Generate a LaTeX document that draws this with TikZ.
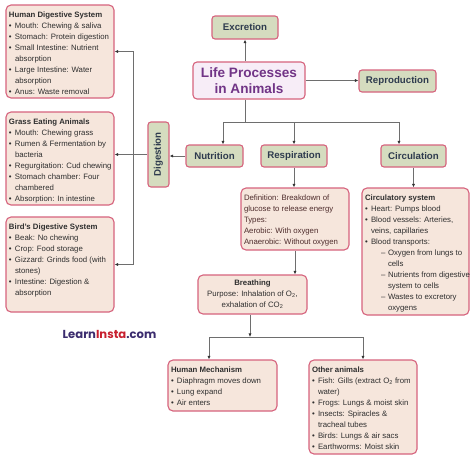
\documentclass[tikz,border=0pt]{standalone}
\usepackage{fontspec}
\setmainfont{Liberation Sans}
\newfontfamily\logofont{Poppins}
\usetikzlibrary{arrows.meta}

\definecolor{edgepink}{HTML}{D6637D}
\definecolor{notefill}{HTML}{F6E6DC}
\definecolor{topicfill}{HTML}{D5DCBF}
\definecolor{topictext}{HTML}{2E3B4E}
\definecolor{mainfill}{HTML}{F7EDF7}
\definecolor{maintext}{HTML}{713486}
\definecolor{wirecol}{HTML}{6E6E6E}
\definecolor{logoblue}{HTML}{3B2C6E}
\definecolor{logored}{HTML}{C8202F}
\definecolor{bodytext}{HTML}{2F2F2F}
\definecolor{deftext}{HTML}{4E2C2C}

\tikzset{
	topic/.style={draw=edgepink, line width=1.1pt, fill=topicfill, rounded corners=3pt, text=topictext, font=\fontsize{9.7}{11}\selectfont\bfseries, inner sep=2pt},
	mainbox/.style={draw=edgepink, line width=1.1pt, fill=mainfill, rounded corners=4pt, text=maintext, font=\fontsize{13.6}{16}\selectfont\bfseries, align=center},
	note/.style={draw=edgepink, line width=1.1pt, fill=notefill, rounded corners=5pt, text=bodytext, font=\fontsize{7.8}{11}\selectfont, inner xsep=3pt, inner ysep=3pt},
	link/.style={draw=wirecol, line width=0.8pt},
	conn/.style={link, -{Latex[length=3.6pt,width=3.2pt,color=black!80]}}
}

\newcommand{\ttl}[1]{\textbf{\rule{0pt}{9pt}#1}\par}
\newcommand{\bul}[1]{\hangindent=6pt\hangafter=1\noindent\makebox[6pt][l]{\textbullet}#1\par}
\newcommand{\dsh}[1]{\hangindent=23pt\hangafter=1\noindent\hspace*{16pt}\makebox[7pt][l]{--}#1\par}
% box of fixed size; lines are broken by hand only
\newcommand{\notetext}[3]{\makebox[#1][l]{\parbox[c][#2][t]{\dimexpr#1+40pt\relax}{\raggedright #3}}}

\begin{document}
\begin{tikzpicture}[x=1pt, y=-1pt]
		%%%%% START %%%%%
		\fill[white] (0,0) rectangle (474,459);
		\useasboundingbox (0,0) rectangle (474,459);

		% centre and the five topics
		\node[mainbox, minimum width=112pt, minimum height=37pt] (life) at (249, 80.5) {Life Processes\\in Animals};
		\node[topic, minimum width=66pt, minimum height=23pt] (excr) at (245, 27.5) {Excretion};
		\node[topic, minimum width=77pt, minimum height=22pt] (repro) at (397.5, 81) {Reproduction};
		\node[topic, minimum width=57pt, minimum height=22pt] (nutr) at (214.5, 156) {Nutrition};
		\node[topic, minimum width=66pt, minimum height=22pt] (resp) at (294, 156) {Respiration};
		\node[topic, minimum width=65pt, minimum height=22pt] (circ) at (413.5, 156) {Circulation};
		\node[topic, rotate=90, minimum width=65pt, minimum height=21pt] (dig) at (158.5, 154.5) {Digestion};

		% digestion notes
		\node[note] (hds) at (60, 51.5) {\notetext{102pt}{87pt}{%
			\ttl{Human Digestive System}
			\bul{Mouth: Chewing \& saliva}
			\bul{Stomach: Protein digestion}
			\bul{Small Intestine: Nutrient\newline absorption}
			\bul{Large Intestine: Water\newline absorption}
			\bul{Anus: Waste removal}}};
		\node[note] (grass) at (60, 158.5) {\notetext{102pt}{87pt}{%
			\ttl{Grass Eating Animals}
			\bul{Mouth: Chewing grass}
			\bul{Rumen \& Fermentation by\newline bacteria}
			\bul{Regurgitation: Cud chewing}
			\bul{Stomach chamber: Four\newline chambered}
			\bul{Absorption: In intestine}}};
		\node[note] (bird) at (60, 264.5) {\notetext{102pt}{89pt}{%
			\ttl{Bird's Digestive System}
			\bul{Beak: No chewing}
			\bul{Crop: Food storage}
			\bul{Gizzard: Grinds food (with\newline stones)}
			\bul{Intestine: Digestion \&\newline absorption}}};

		% respiration notes
		\node[note, text=deftext] (def) at (295, 219) {\notetext{102pt}{56pt}{%
			\rule{0pt}{9.5pt}Definition: Breakdown of\newline glucose to release energy\par
			Types:\par
			Aerobic: With oxygen\par
			Anaerobic: Without oxygen}};
		\node[note, align=center, minimum width=109pt, minimum height=39pt] (breath) at (252.5, 294.5) {\textbf{Breathing}\\Purpose: Inhalation of O\textsubscript{2},\\exhalation of CO\textsubscript{2}};
		\node[note] (hmech) at (222.5, 385.5) {\notetext{103pt}{45pt}{%
			\ttl{Human Mechanism}
			\bul{Diaphragm moves down}
			\bul{Lung expand}
			\bul{Air enters}}};
		\node[note] (other) at (363, 407) {\notetext{102pt}{88pt}{%
			\ttl{Other animals}
			\bul{Fish: Gills (extract O\textsubscript{2} from\newline water)}
			\bul{Frogs: Lungs \& moist skin}
			\bul{Insects: Spiracles \&\newline tracheal tubes}
			\bul{Birds: Lungs \& air sacs}
			\bul{Earthworms: Moist skin}}};

		% circulation notes
		\node[note] (circsys) at (415.5, 251.5) {\notetext{101pt}{121pt}{%
			\ttl{Circulatory system}
			\bul{Heart: Pumps blood}
			\bul{Blood vessels: Arteries,\newline veins, capillaries}
			\bul{Blood transports:}
			\dsh{Oxygen from lungs to\newline cells}
			\dsh{Nutrients from digestive\newline system to cells}
			\dsh{Wastes to excretory\newline oxygens}}};

		\node[font=\logofont\fontsize{11.6}{13}\selectfont\bfseries, text=logoblue] (logo) at (109.5, 334) {Learn\textcolor{logored}{Insta}.com};

		% connectors
		\coordinate (hub) at (245, 122);
		\coordinate (dbus) at (133, 154.5);
		\coordinate (bjoin) at (250, 337);

		\draw[conn] (life.north -| excr) -- (excr.south);
		\draw[conn] (life.east) -- (life.east -| repro.west);
		\draw[link] (life.south -| hub) -- (hub);
		\draw[conn] (hub) -| ([xshift=8.5pt]nutr.north);
		\draw[conn] (hub) -| (resp.north);
		\draw[conn] (hub) -| ([xshift=-14.5pt]circ.north);

		\draw[conn] (nutr.west) -- (nutr.west -| dig.south);
		\draw[conn] (dig.north) -- (dig.north -| grass.east);
		\draw[conn] (dbus) |- (hds.east);
		\draw[conn] (dbus) |- (bird.east);

		\draw[conn] (resp.south) -- (resp.south |- def.north);
		\draw[conn] (def.south) -- (def.south |- breath.north);
		\draw[conn] (breath.south -| bjoin) -- (bjoin);
		\draw[conn] (bjoin) -| ([xshift=-13.5pt]hmech.north);
		\draw[conn] (bjoin) -| (other.north);

		\draw[conn] (circ.south) -- (circ.south |- circsys.north);
		%%%%% END %%%%%
	\end{tikzpicture}
\end{document}
